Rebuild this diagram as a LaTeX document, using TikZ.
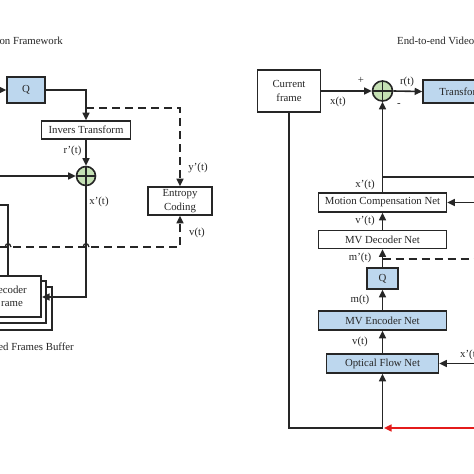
\documentclass[tikz,border=0pt]{standalone}
\usepackage{fontspec}
\setmainfont{Liberation Serif}
\usetikzlibrary{arrows.meta}
\definecolor{lc}{HTML}{262626}
\definecolor{bfill}{HTML}{BDD7EE}
\definecolor{gfill}{HTML}{C5E0B4}
\definecolor{redc}{HTML}{E41B1B}
\begin{document}
\begin{tikzpicture}[x=1pt,y=-1pt,
  font=\fontsize{10.8}{14}\selectfont,
  box/.style={draw=lc, line width=1.6pt, fill=white, inner sep=0pt, align=center, text=lc},
  bbox/.style={box, fill=bfill},
  wire/.style={draw=lc, line width=1.6pt},
  arr/.style={wire, -{Triangle[length=7.5pt,width=7pt]}},
  dsh/.style={wire, dash pattern=on 8pt off 5pt},
  darr/.style={dsh, -{Triangle[length=7.5pt,width=7pt]}},
  redarr/.style={draw=redc, line width=1.6pt, -{Triangle[length=7.5pt,width=7pt]}},
  sumnode/.style={circle, draw=lc, line width=1.6pt, fill=gfill, minimum size=19pt, inner sep=0pt,
    path picture={\draw[lc, line width=1.3pt] (path picture bounding box.north) -- (path picture bounding box.south) (path picture bounding box.west) -- (path picture bounding box.east);}},
  lbl/.style={inner sep=0pt, text=lc}
]
\useasboundingbox (0,0) rectangle (474,474);
\fill[white] (0,0) rectangle (474,474);
\clip (0,0) rectangle (474,474);

% ---------- left part ----------
\node[lbl, anchor=east] (tl) at (63,41) {on Framework};
\node[bbox, minimum width=38pt, minimum height=26pt] (QL) at (26,90) {Q};
\node[box, minimum width=89pt, minimum height=18pt] (IT) at (86,130) {Invers Transform};
\node[sumnode] (SL) at (86,176) {};
\node[box, minimum width=64pt, minimum height=28pt] (EC) at (180,201) {Entropy\\Coding};
\node[box, minimum width=66pt, minimum height=43pt] (B3) at (19,308.5) {};
\node[box, minimum width=66pt, minimum height=42pt] (B2) at (13,302) {};
\node[box, minimum width=66pt, minimum height=41pt] (B1) at (8,296.5) {};
\node[lbl, anchor=east] (b1a) at (27,290) {ecoder};
\node[lbl, anchor=east] (b1b) at (23,304) {rame};
\node[lbl, anchor=east] (bl) at (74,347) {ed Frames Buffer};

\coordinate (inQ) at (0,90);
\coordinate (d1) at (86,108);
\coordinate (inS) at (0,176);
\coordinate (bkt) at (42,297);
\coordinate (mcl) at (0,205);
\coordinate (dl) at (0,247);

\draw[arr] (inQ) -- (QL.west);
\draw[arr] (QL.east) -| (IT.north);
\draw[darr] (d1) -| (EC.north);
\draw[arr] (IT.south) -- (SL.north);
\draw[arr] (inS) -- (SL.west);
\draw[arr] (SL.south) |- (bkt);
\draw[wire] (mcl) -| (B1.north);
\draw[darr] (dl) -| (EC.south);
% line hops
\draw[wire, line width=1.3pt] (5,247) .. controls (6,242.5) and (10,242.5) .. (11,247);
\draw[wire, line width=1.3pt] (83,247) .. controls (84,242.5) and (88,242.5) .. (89,247);

\node[lbl] (lr) at (72.5,151) {r'(t)};
\node[lbl] (lx) at (99,202) {x'(t)};
\node[lbl] (ly) at (198,168) {y'(t)};
\node[lbl] (lv) at (197,233) {v(t)};

% ---------- right part ----------
\node[lbl, anchor=west] (tr) at (397,41) {End-to-end Video};
\node[box, minimum width=63pt, minimum height=42pt] (CF) at (289,91) {Current\\frame};
\node[sumnode, minimum size=20pt] (SR) at (382.5,91) {};
\node[bbox, minimum width=78pt, minimum height=23pt] (TR) at (462,91.5) {Transform};
\node[box, minimum width=128pt, minimum height=19pt] (MC) at (382.5,202.5) {Motion Compensation Net};
\node[box, minimum width=128pt, minimum height=18pt] (MVD) at (382.5,239.5) {MV Decoder Net};
\node[bbox, minimum width=31pt, minimum height=21pt] (QR) at (382.5,278.5) {Q};
\node[bbox, minimum width=128pt, minimum height=19pt] (MVE) at (382.5,320.5) {MV Encoder Net};
\node[bbox, minimum width=112pt, minimum height=19pt] (OF) at (382.5,363.5) {Optical Flow Net};

\coordinate (j1) at (382.5,177);
\coordinate (br) at (474,177);
\coordinate (mcin) at (474,202.5);
\coordinate (j2) at (382.5,259);
\coordinate (j2r) at (474,259);
\coordinate (ofin) at (474,363.5);
\coordinate (c2) at (382.5,428);
\coordinate (c2r) at (384,428);
\coordinate (rin) at (474,428);

\draw[arr] (CF.east) -- (SR.west);
\draw[arr] (SR.east) -- (TR.west);
\draw[arr] (MC.north) -- (SR.south);
\draw[wire] (j1) -- (br);
\draw[arr] (mcin) -- (MC.east);
\draw[arr] (MVD.north) -- (MC.south);
\draw[arr] (QR.north) -- (MVD.south);
\draw[dsh] (j2) -- (j2r);
\draw[arr] (MVE.north) -- (QR.south);
\draw[arr] (OF.north) -- (MVE.south);
\draw[arr] (ofin) -- (OF.east);
\draw[arr] (CF.south) |- (c2) -- (OF.south);
\draw[redarr] (rin) -- (c2r);

\node[lbl] (lxt) at (338,102) {x(t)};
\node[lbl] (lp) at (361,80) {+};
\node[lbl] (lrt) at (407,82) {r(t)};
\node[lbl] (lm) at (399,105) {-};
\node[lbl] (lx2) at (365,185) {x'(t)};
\node[lbl] (lv2) at (365,221) {v'(t)};
\node[lbl] (lm2) at (360,258) {m'(t)};
\node[lbl] (lm1) at (360,300) {m(t)};
\node[lbl] (lv1) at (360,342) {v(t)};
\node[lbl, anchor=west] (lx3) at (460,355) {x'(t)};
\end{tikzpicture}
\end{document}
